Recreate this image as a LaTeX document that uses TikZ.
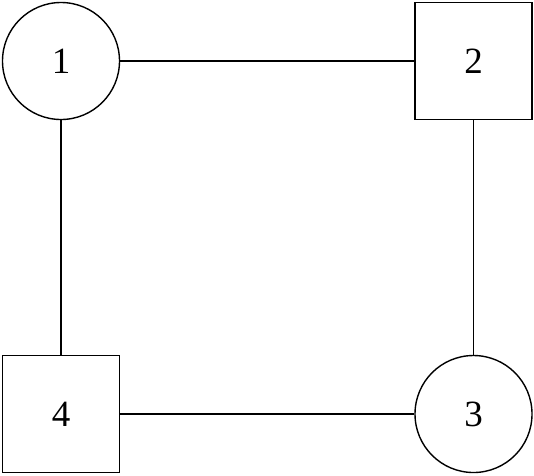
\documentclass[tikz,border=0pt]{standalone}
\usepackage{fontspec}
\setmainfont{Liberation Serif}
\begin{document}
\begin{tikzpicture}[x=1pt,y=-1pt,
  every node/.style={font=\fontsize{37}{40}\selectfont, line width=1.4pt, inner sep=0pt},
  circ/.style={draw, circle, minimum size=117pt},
  sq/.style={draw, rectangle, minimum width=117pt, minimum height=117pt},
  edge/.style={line width=1.4pt}]
\useasboundingbox (0,0) rectangle (534,475);
\node[circ] (n1) at (61,61) {1};
\node[sq] (n2) at (473.5,61) {2};
\node[circ] (n3) at (473.5,414) {3};
\node[sq] (n4) at (61,414) {4};
\draw[edge] (n1) -- (n2);
\draw[edge] (n2) -- (n3);
\draw[edge] (n3) -- (n4);
\draw[edge] (n4) -- (n1);
\end{tikzpicture}
\end{document}
